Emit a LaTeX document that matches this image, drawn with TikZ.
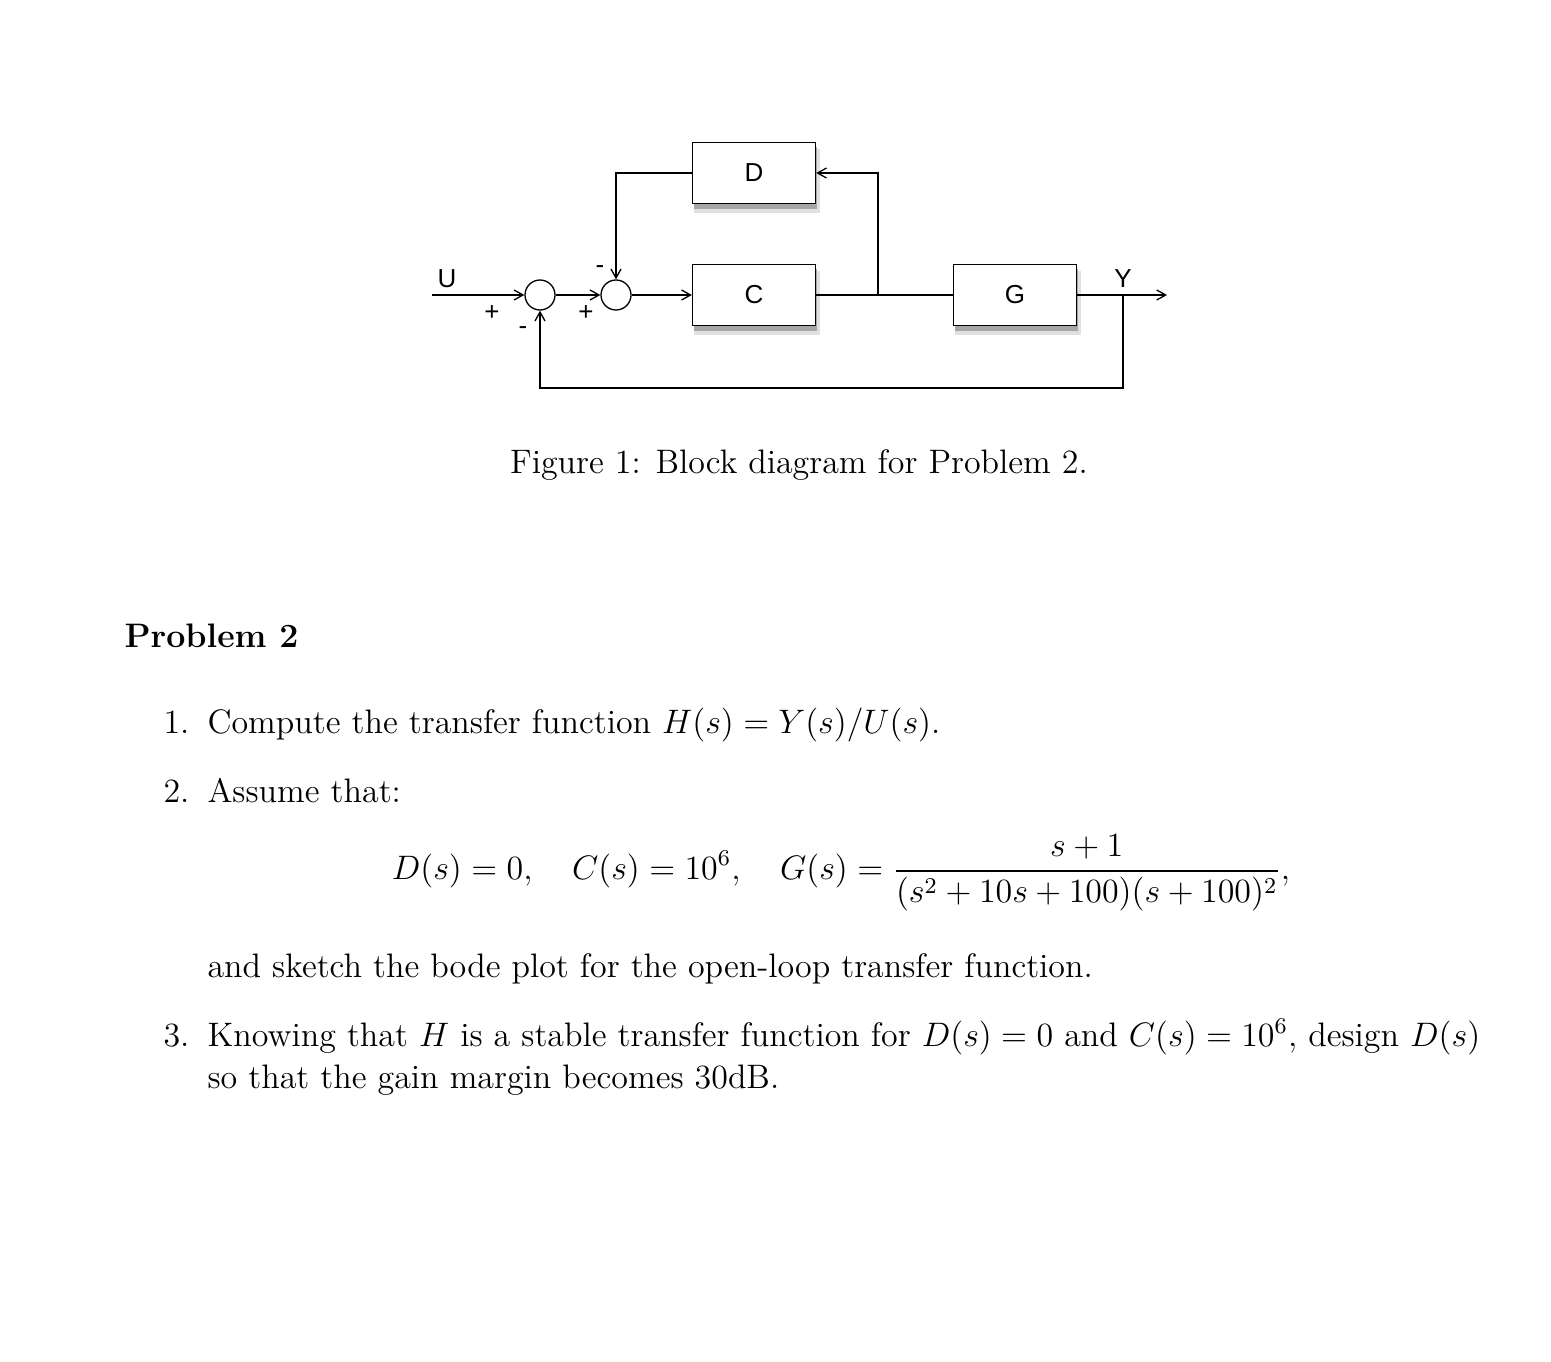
\documentclass[tikz,border=0pt]{standalone}
\usepackage{fontspec}
\usepackage{amsmath}
\newfontfamily\hel{Liberation Sans}
\usetikzlibrary{arrows.meta}
\begin{document}
\begin{tikzpicture}[x=1pt,y=-1pt,
  blk/.style={draw,line width=1.3pt,fill=white,minimum width=123pt,minimum height=61pt,font=\hel\fontsize{26}{28}\selectfont},
  sumc/.style={draw,circle,line width=1.3pt,minimum size=30pt,inner sep=0pt},
  lbl/.style={font=\hel\fontsize{26}{28}\selectfont,inner sep=0pt},
  tx/.style={inner sep=0pt,font=\fontsize{12}{14}\selectfont,scale=2.83,transform shape},
  txt/.style={tx,anchor=base west},
  ln/.style={line width=1.3pt},
  ar/.style={ln,-{Straight Barb[length=9pt,width=10pt]}}]
\useasboundingbox (0,0) rectangle (1551,1362);
% shadows
\foreach \cx/\cy in {754/173,754/295,1015/295}{
  \fill[black!12] (\cx-60,\cy-24) rectangle (\cx+66,\cy+40);
  \fill[black!35] (\cx-60,\cy-26) rectangle (\cx+63,\cy+36);
}
\node[blk] (D) at (754,173) {D};
\node[blk] (C) at (754,295) {C};
\node[blk] (G) at (1015,295) {G};
\node[sumc] (s1) at (540,295) {};
\node[sumc] (s2) at (616,295) {};
\coordinate (u) at (432,295);
\coordinate (br) at (878,295);
\coordinate (yb) at (1123,295);
\coordinate (yo) at (1167,295);
\draw[ar] (u) -- (s1);
\draw[ar] (s1) -- (s2);
\draw[ar] (s2) -- (C);
\draw[ln] (C) -- (G);
\draw[ar] (br) |- (D);
\draw[ar] (D) -| (s2);
\draw[ar] (G) -- (yo);
\draw[ar] (yb) -- (1123,388) -| (s1);
\node[lbl] (lu) at (447,279) {U};
\node[lbl] (ly) at (1123,279) {Y};
\node[lbl] (p1) at (492,313) {+};
\node[lbl] (m1) at (523,331) {-};
\node[lbl] (p2) at (586,313) {+};
\node[lbl] (m2) at (600,270) {-};
\node[tx] (cap) at (799,465) {Figure 1: Block diagram for Problem 2.};
\node[txt,font=\bfseries\fontsize{12}{14}\selectfont] (pb) at (124,647) {Problem 2};
\node[txt,anchor=base east] (n1) at (190,733) {1.};
\node[txt] (t1) at (207,733) {Compute the transfer function $H(s)=Y(s)/U(s)$.};
\node[txt,anchor=base east] (n2) at (190,802) {2.};
\node[txt] (t2) at (207,802) {Assume that:};
\node[tx] (eq) at (841,873) {$\displaystyle D(s)=0,\quad C(s)=10^6,\quad G(s)=\frac{s+1}{(s^2+10s+100)(s+100)^2},$};
\node[txt] (t3) at (207,977) {and sketch the bode plot for the open-loop transfer function.};
\node[txt,anchor=base east] (n3) at (190,1046) {3.};
\node[txt] (t4) at (207,1046) {Knowing that $H$ is a stable transfer function for $D(s)=0$ and $C(s)=10^6$, design $D(s)$};
\node[txt] (t5) at (207,1088) {so that the gain margin becomes 30dB.};
\end{tikzpicture}
\end{document}
